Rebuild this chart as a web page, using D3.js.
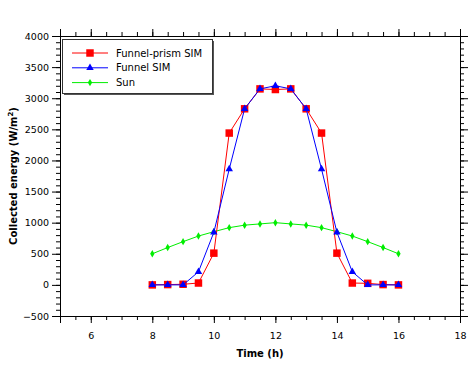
<!DOCTYPE html>
<html><head><meta charset="utf-8">
<script src="https://cdn.jsdelivr.net/npm/d3@7"></script>
<style>body{margin:0;background:#fff}svg{display:block}</style>
</head><body>
<svg id="c" width="474" height="368"></svg>
<script>
const time = [8,8.5,9,9.5,10,10.5,11,11.5,12,12.5,13,13.5,14,14.5,15,15.5,16];
const funnelPrism = [0,5,10,30,510,2440,2830,3150,3140,3150,2830,2440,510,30,25,5,0];
const funnel = [0,0,0,210,845,1860,2830,3150,3200,3150,2830,1860,845,210,0,0,0];
const sun = [500,600,695,785,855,920,960,980,1000,980,960,920,855,785,695,600,500];
const xTicks = [6,8,10,12,14,16,18];
const yTicks = [-500,0,500,1000,1500,2000,2500,3000,3500,4000];
const seriesNames = ["Funnel-prism SIM","Funnel SIM","Sun"];

const svg = d3.select("#c");
const L=60,R=460,T=36,B=316;
const x = d3.scaleLinear().domain([5,18]).range([L,R]);
const y = d3.scaleLinear().domain([-500,4000]).range([B,T]);
const font = "DejaVu Sans, Verdana, sans-serif";

const xMinor = d3.range(5,18.01,0.5);
const yMinor = d3.range(-500,4000.1,100);

function axisSet(gen, tr){
  return svg.append("g").attr("transform",tr).call(gen)
   .call(g=>g.select(".domain").attr("stroke","#000"))
   .call(g=>g.selectAll(".tick line").attr("stroke","#000"));
}
// minor ticks
axisSet(d3.axisBottom(x).tickValues(xMinor).tickSize(4).tickFormat(""), `translate(0,${B})`);
axisSet(d3.axisTop(x).tickValues(xMinor).tickSize(4).tickFormat(""), `translate(0,${T})`);
axisSet(d3.axisLeft(y).tickValues(yMinor).tickSize(4).tickFormat(""), `translate(${L},0)`);
axisSet(d3.axisRight(y).tickValues(yMinor).tickSize(4).tickFormat(""), `translate(${R},0)`);
// major ticks
axisSet(d3.axisBottom(x).tickValues(xTicks).tickSize(7).tickPadding(9).tickFormat(d3.format("d")), `translate(0,${B})`);
axisSet(d3.axisTop(x).tickValues(xTicks).tickSize(7).tickFormat(""), `translate(0,${T})`);
axisSet(d3.axisLeft(y).tickValues(yTicks).tickSize(8).tickPadding(3).tickFormat(d=>d<0?"\u2212"+(-d):d), `translate(${L},0)`);
axisSet(d3.axisRight(y).tickValues(yTicks).tickSize(8).tickFormat(""), `translate(${R},0)`);
svg.selectAll(".tick text").attr("font-family",font).attr("font-size","9.5px").attr("fill","#000");

// axis titles
svg.append("text").attr("x",(L+R)/2).attr("y",357).attr("text-anchor","middle")
  .attr("font-family",font).attr("font-weight","bold").attr("font-size","10px").text("Time (h)");
const yt = svg.append("text").attr("transform",`translate(16.5,${(T+B)/2}) rotate(-90)`).attr("text-anchor","middle")
  .attr("font-family",font).attr("font-weight","bold").attr("font-size","10px");
yt.append("tspan").text("Collected energy (W/m");
yt.append("tspan").attr("dy","-4").attr("font-size","7px").text("2");
yt.append("tspan").attr("dy","4").text(")");

const colors = ["#ff0000","#0000ff","#00ee00"];
const data = [funnelPrism, funnel, sun];
const line = d3.line().x(d=>x(d[0])).y(d=>y(d[1]));
const sym = [d3.symbol(d3.symbolSquare,56), d3.symbol(d3.symbolTriangle,24), d3.symbol(d3.symbolDiamond,16)];

// draw order: sun, funnel-prism, funnel
[2,0,1].forEach(i=>{
  const pts = time.map((t,j)=>[t,data[i][j]]);
  svg.append("path").datum(pts).attr("d",line).attr("fill","none").attr("stroke",colors[i]).attr("stroke-width",1);
  svg.append("g").selectAll("path").data(pts).join("path")
    .attr("transform",d=>`translate(${x(d[0])},${y(d[1])})`)
    .attr("d",sym[i]()).attr("fill",colors[i]);
});

// legend
const lg = svg.append("g");
lg.append("rect").attr("x",64).attr("y",41).attr("width",150).attr("height",54).attr("fill","#555");
lg.append("rect").attr("x",62.5).attr("y",39.5).attr("width",150).attr("height",54).attr("fill","#fff").attr("stroke","#333").attr("stroke-width",1);
seriesNames.forEach((n,i)=>{
  const yy = 53 + i*14.8;
  lg.append("line").attr("x1",72).attr("x2",108).attr("y1",yy).attr("y2",yy).attr("stroke",colors[i]);
  lg.append("path").attr("transform",`translate(90,${yy})`).attr("d",sym[i]()).attr("fill",colors[i]);
  lg.append("text").attr("x",116).attr("y",yy+3.5).attr("font-family",font).attr("font-size","10px").text(n);
});
</script>
</body></html>
